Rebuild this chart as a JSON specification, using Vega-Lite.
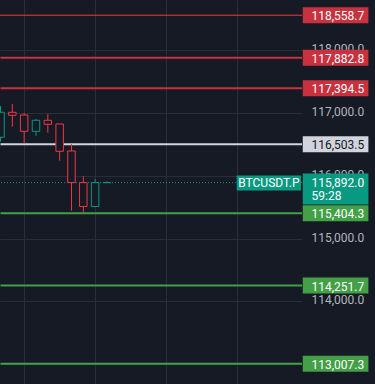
{
  "$schema": "https://vega.github.io/schema/vega-lite/v6.json",
  "width": 302,
  "height": 384,
  "autosize": {"type": "none"},
  "padding": {"left": 0, "top": 0, "right": 73, "bottom": 0},
  "background": "#161a25",
  "config": {
    "view": {"stroke": null},
    "axis": {"gridColor": "#2a2e39", "gridWidth": 1, "domain": false, "ticks": false, "title": null},
    "text": {"font": "Roboto", "fontSize": 12}
  },
  "datasets": {
    "candles": [
      {"i": 0, "o": 116614, "h": 117112, "l": 116544, "c": 117012},
      {"i": 1, "o": 117012, "h": 117144, "l": 116783, "c": 116964},
      {"i": 2, "o": 116969, "h": 117001, "l": 116518, "c": 116709},
      {"i": 3, "o": 116709, "h": 116905, "l": 116639, "c": 116885},
      {"i": 4, "o": 116885, "h": 116985, "l": 116687, "c": 116821},
      {"i": 5, "o": 116826, "h": 116826, "l": 116241, "c": 116391},
      {"i": 6, "o": 116396, "h": 116507, "l": 115445, "c": 115892},
      {"i": 7, "o": 115892, "h": 115997, "l": 115419, "c": 115512},
      {"i": 8, "o": 115512, "h": 115950, "l": 115512, "c": 115892},
      {"i": 9, "o": 115892, "h": 115910, "l": 115892, "c": 115892}
    ],
    "levels": [
      {"price": 118558.7, "kind": "R"},
      {"price": 117882.8, "kind": "R"},
      {"price": 117394.5, "kind": "R"},
      {"price": 116503.5, "kind": "P"},
      {"price": 115404.3, "kind": "S"},
      {"price": 114251.7, "kind": "S"},
      {"price": 113007.3, "kind": "S"}
    ],
    "last": [
      {"price": 115892.0, "symbol": "BTCUSDT.P", "countdown": "59:28"}
    ]
  },
  "layer": [
    {
      "data": {"name": "levels"},
      "transform": [{"filter": "datum.price < 118500"}],
      "mark": {"type": "rule", "strokeWidth": 2},
      "encoding": {
        "x": {"datum": 0, "type": "quantitative", "scale": {"domain": [-0.0423, 25.486], "nice": false, "zero": false, "padding": 0},
              "axis": {"values": [2, 8, 14, 20], "labels": false, "grid": true, "orient": "bottom"}},
        "x2": {"datum": 25.486},
        "y": {"field": "price", "type": "quantitative",
              "scale": {"domain": [112684, 118801], "nice": false, "zero": false, "padding": 0},
              "axis": {"orient": "right", "values": [113000, 113500, 114000, 114500, 115000, 115500, 116000, 116500, 117000, 117500, 118000, 118500],
                       "format": ",.1f", "labelExpr": "indexof([113000, 115500, 116500, 118500], datum.value) >= 0 ? '' : datum.label",
                       "labelColor": "#b2b5be", "labelFont": "Roboto", "labelFontSize": 12, "labelPadding": 9, "labelOffset": -1.5, "grid": true, "labelAlign": "left", "labelBaseline": "middle", "labelOverlap": false}},
        "color": {"field": "kind", "type": "nominal", "legend": null,
                  "scale": {"domain": ["R", "P", "S"], "range": ["#c8323e", "#d1d4dc", "#43a047"]}}
      }
    },
    {
      "data": {"name": "levels"},
      "transform": [{"filter": "datum.price >= 118500"}],
      "mark": {"type": "rule", "strokeWidth": 1, "color": "#f23645"},
      "encoding": {
        "y": {"field": "price", "type": "quantitative", "scale": {"domain": [112684, 118801], "nice": false, "zero": false, "padding": 0}}
      }
    },
    {
      "data": {"name": "last"},
      "mark": {"type": "rule", "strokeWidth": 1, "strokeDash": [1, 2], "color": "#089981"},
      "encoding": {
        "y": {"field": "price", "type": "quantitative", "scale": {"domain": [112684, 118801], "nice": false, "zero": false, "padding": 0}}
      }
    },
    {
      "data": {"name": "candles"},
      "mark": {"type": "rule", "strokeWidth": 1, "clip": true},
      "encoding": {
        "x": {"field": "i", "type": "quantitative", "scale": {"domain": [-0.0423, 25.486], "nice": false, "zero": false, "padding": 0}},
        "y": {"field": "l", "type": "quantitative", "scale": {"domain": [112684, 118801], "nice": false, "zero": false, "padding": 0}},
        "y2": {"field": "h"},
        "color": {"condition": {"test": "datum.c >= datum.o", "value": "#089981"}, "value": "#f23645"}
      }
    },
    {
      "data": {"name": "candles"},
      "mark": {"type": "bar", "size": 7.5, "fill": "#161a25", "strokeWidth": 1, "clip": true},
      "encoding": {
        "x": {"field": "i", "type": "quantitative", "scale": {"domain": [-0.0423, 25.486], "nice": false, "zero": false, "padding": 0}},
        "y": {"field": "o", "type": "quantitative", "scale": {"domain": [112684, 118801], "nice": false, "zero": false, "padding": 0}},
        "y2": {"field": "c"},
        "stroke": {"condition": {"test": "datum.c >= datum.o", "value": "#089981"}, "value": "#f23645"}
      }
    },
    {
      "data": {"name": "levels"},
      "mark": {"type": "rule", "strokeWidth": 16, "strokeCap": "butt"},
      "encoding": {
        "x": {"datum": 25.55, "type": "quantitative", "scale": {"domain": [-0.0423, 25.486], "nice": false, "zero": false, "padding": 0}},
        "x2": {"datum": 31.1},
        "y": {"field": "price", "type": "quantitative", "scale": {"domain": [112684, 118801], "nice": false, "zero": false, "padding": 0}},
        "color": {"field": "kind", "type": "nominal", "legend": null,
                  "scale": {"domain": ["R", "P", "S"], "range": ["#f23645", "#ffffff", "#4caf50"]}}
      }
    },
    {
      "data": {"name": "levels"},
      "mark": {"type": "text", "align": "left", "baseline": "middle", "dy": 1},
      "encoding": {
        "x": {"datum": 26.29, "type": "quantitative", "scale": {"domain": [-0.0423, 25.486], "nice": false, "zero": false, "padding": 0}},
        "y": {"field": "price", "type": "quantitative", "scale": {"domain": [112684, 118801], "nice": false, "zero": false, "padding": 0}},
        "text": {"field": "price", "type": "quantitative", "format": ",.1f"},
        "color": {"condition": {"test": "datum.kind === 'P'", "value": "#131722"}, "value": "#ffffff"}
      }
    },
    {
      "data": {"name": "last"},
      "mark": {"type": "rule", "strokeWidth": 15, "strokeCap": "butt", "color": "#089981", "yOffset": 0.5},
      "encoding": {
        "x": {"datum": 19.97, "type": "quantitative", "scale": {"domain": [-0.0423, 25.486], "nice": false, "zero": false, "padding": 0}},
        "x2": {"datum": 25.4},
        "y": {"field": "price", "type": "quantitative", "scale": {"domain": [112684, 118801], "nice": false, "zero": false, "padding": 0}}
      }
    },
    {
      "data": {"name": "last"},
      "mark": {"type": "text", "align": "center", "baseline": "middle", "color": "#ffffff", "dy": 0.5},
      "encoding": {
        "x": {"datum": 22.69, "type": "quantitative", "scale": {"domain": [-0.0423, 25.486], "nice": false, "zero": false, "padding": 0}},
        "y": {"field": "price", "type": "quantitative", "scale": {"domain": [112684, 118801], "nice": false, "zero": false, "padding": 0}},
        "text": {"field": "symbol"}
      }
    },
    {
      "data": {"name": "last"},
      "mark": {"type": "rule", "strokeWidth": 31, "strokeCap": "butt", "color": "#089981", "yOffset": 6.5},
      "encoding": {
        "x": {"datum": 25.55, "type": "quantitative", "scale": {"domain": [-0.0423, 25.486], "nice": false, "zero": false, "padding": 0}},
        "x2": {"datum": 31.1},
        "y": {"field": "price", "type": "quantitative", "scale": {"domain": [112684, 118801], "nice": false, "zero": false, "padding": 0}}
      }
    },
    {
      "data": {"name": "last"},
      "mark": {"type": "text", "align": "left", "baseline": "middle", "color": "#ffffff"},
      "encoding": {
        "x": {"datum": 26.29, "type": "quantitative", "scale": {"domain": [-0.0423, 25.486], "nice": false, "zero": false, "padding": 0}},
        "y": {"field": "price", "type": "quantitative", "scale": {"domain": [112684, 118801], "nice": false, "zero": false, "padding": 0}},
        "text": {"field": "price", "type": "quantitative", "format": ",.1f"}
      }
    },
    {
      "data": {"name": "last"},
      "mark": {"type": "text", "align": "left", "baseline": "middle", "color": "#ffffff", "dy": 13.5},
      "encoding": {
        "x": {"datum": 26.29, "type": "quantitative", "scale": {"domain": [-0.0423, 25.486], "nice": false, "zero": false, "padding": 0}},
        "y": {"field": "price", "type": "quantitative", "scale": {"domain": [112684, 118801], "nice": false, "zero": false, "padding": 0}},
        "text": {"field": "countdown"}
      }
    }
  ]
}
